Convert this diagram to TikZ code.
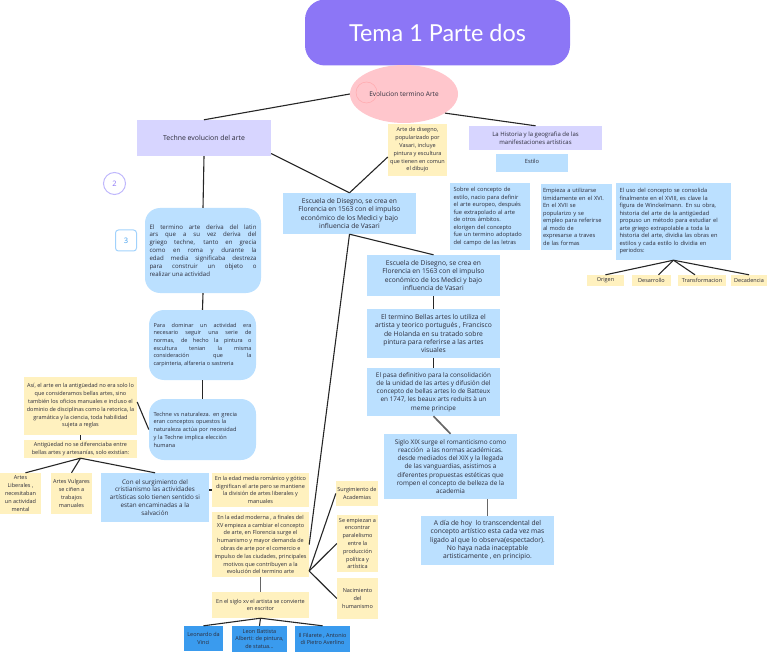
\documentclass[tikz,border=0pt]{standalone}
\usepackage{fontspec}
\usepackage{xcolor}
\setmainfont{Open Sans}
\newfontfamily\titlefont{Lato}
\usetikzlibrary{shapes.geometric}
\definecolor{titlecolor}{HTML}{8C76F6}
\definecolor{pinkcolor}{HTML}{FFC6CC}
\definecolor{lavendercolor}{HTML}{D7D5FF}
\definecolor{bluecolor}{HTML}{BBE0FF}
\definecolor{yellowcolor}{HTML}{FFF1BF}
\definecolor{deepcolor}{HTML}{3A9BEE}
\definecolor{inkcolor}{HTML}{2C2C3A}
\hyphenpenalty=10000
\tikzset{
  bx/.style={rectangle, inner sep=0pt, align=center, text=inkcolor},
  bluebox/.style={bx, fill=bluecolor, font=\fontsize{6.7}{8.3}\selectfont},
  smallblue/.style={bx, fill=bluecolor, font=\fontsize{5.7}{7.5}\selectfont},
  roundblue/.style={bx, fill=bluecolor, rounded corners=15pt, font=\fontsize{6.1}{7.9}\selectfont},
  yellowbox/.style={bx, fill=yellowcolor, font=\fontsize{5.5}{7.8}\selectfont},
  lavenderbox/.style={bx, fill=lavendercolor, font=\fontsize{6}{7.8}\selectfont},
  deepbox/.style={bx, fill=deepcolor, font=\fontsize{5.5}{7.8}\selectfont},
  link/.style={draw=black!85, line width=1.1pt},
  greylink/.style={draw=black!60, line width=1.7pt},
}
\begin{document}
\begin{tikzpicture}[x=1pt, y=-1pt]%
\useasboundingbox (0,0) rectangle (768,652);%
\node[bx, fill=titlecolor, rounded corners=20pt, minimum width=265pt, minimum height=66pt, text=white, font=\titlefont\fontsize{23.4}{28}\selectfont] (title) at (437.5,32.5) {Tema 1 Parte dos};%
\node[ellipse, inner sep=0pt, fill=pinkcolor, minimum width=108pt, minimum height=58pt, text=inkcolor, font=\fontsize{6.5}{8}\selectfont] (evolucion) at (404,94) {Evolucion termino Arte};%
\node[circle, draw=pinkcolor!85!red, line width=0.5pt, minimum size=21pt, inner sep=0pt] (marca) at (366.5,92.5) {};%
\node[circle, draw=lavendercolor!70!titlecolor, line width=1pt, minimum size=22pt, inner sep=0pt, text=titlecolor, font=\fontsize{7.5}{9}\selectfont] (dos) at (114.5,183.5) {2};%
\node[rectangle, rounded corners=3pt, draw=bluecolor!80!deepcolor, line width=1pt, minimum size=21pt, inner sep=0pt, text=deepcolor, font=\fontsize{7.5}{9}\selectfont] (tres) at (126,240.5) {3};%
\node[lavenderbox, minimum width=134pt, minimum height=36pt, font=\fontsize{6.9}{8}\selectfont] (techne) at (204,138) {Techne evolucion del arte};%
\node[lavenderbox, minimum width=133pt, minimum height=24pt] (historia) at (535.5,138) {La Historia y la geografia de las\\manifestaciones artísticas};%
\node[yellowbox, minimum width=59pt, minimum height=52pt] (disegno) at (417.5,150) {Arte de disegno,\\popularizado por\\Vasari, incluye\\pintura y escultura\\que tienen en comun\\el dibujo};%
\node[smallblue, minimum width=72pt, minimum height=18pt] (estilo) at (532,163) {\raisebox{4pt}{Estilo}};%
\node[smallblue, minimum width=80pt, minimum height=67pt, text width=73pt, align=left, inner xsep=3.5pt] (sobre) at (490,216.5) {Sobre el concepto de\\estilo, nacio para definir\\el arte europeo, después\\fue extrapolado al arte\\de otros ámbitos.\\elorigen del concepto\\fue un termino adoptado\\del campo de las letras};%
\node[smallblue, minimum width=71pt, minimum height=66pt, text width=67pt, align=left] (empieza) at (576.5,217) {Empieza a utilizarse\\timidamente en el XVI.\\En el XVII se\\popularizo y se\\empleo para referirse\\al modo de\\expresarse a traves\\de las formas};%
\node[smallblue, minimum width=115pt, minimum height=77pt, text width=108pt, align=left] (uso) at (673.5,221.5) {El uso del concepto se consolida\\finalmente en el XVIII, es clave la\\figura de Winckelmann. En su obra,\\historia del arte de la antigüedad\\propuso un método para estudiar el\\arte griego extrapolable a toda la\\historia del arte, dividia las obras en\\estilos y cada estilo lo dividia en\\periodos:};%
\node[yellowbox, minimum width=37pt, minimum height=11pt] (origen) at (605.5,280.5) {Origen};%
\node[yellowbox, minimum width=39pt, minimum height=11pt] (desarrollo) at (651.5,280.5) {Desarrollo};%
\node[yellowbox, minimum width=48pt, minimum height=11pt] (transformacion) at (702,280.5) {Transformacion};%
\node[yellowbox, minimum width=36pt, minimum height=11pt] (decadencia) at (749,280.5) {Decadencia};%
\node[bluebox, minimum width=133pt, minimum height=41pt] (escuelaa) at (349.5,213.5) {Escuela de Disegno, se crea en\\Florencia en 1563 con el impulso\\económico de los Medici y bajo\\influencia de Vasari};%
\node[bluebox, minimum width=133pt, minimum height=41pt] (escuelab) at (433.5,275.5) {Escuela de Disegno, se crea en\\Florencia en 1563 con el impulso\\económico de los Medici y bajo\\influencia de Vasari};%
\node[bluebox, minimum width=133pt, minimum height=49pt] (bellas) at (433.5,333.5) {El termino Bellas artes lo utiliza el\\artista y teorico portugués , Francisco\\de Holanda en su tratado sobre\\pintura para referirse a las artes\\visuales};%
\node[bluebox, minimum width=133pt, minimum height=48pt, font=\fontsize{6.4}{8.3}\selectfont] (pasa) at (433.5,392) {El pasa definitivo para la consolidación\\de la unidad de las artes y difusión del\\concepto de bellas artes lo de Batteux\\en 1747, les beaux arts reduits à un\\meme principe};%
\node[bluebox, minimum width=133pt, minimum height=65pt, font=\fontsize{6.4}{8.3}\selectfont] (siglo) at (450.5,466.5) {Siglo XIX surge el romanticismo como\\reacción\ \ a las normas académicas.\\desde mediados del XIX y la llegada\\de las vanguardias, asistimos a\\diferentes propuestas estéticas que\\rompen el concepto de belleza de la\\academia};%
\node[bluebox, minimum width=133pt, minimum height=49pt] (hoy) at (487.5,540.5) {A día de hoy\ \ lo transcendental del\\concepto artístico esta cada vez mas\\ligado al que lo observa(espectador).\\No haya nada inaceptable\\artisticamente , en principio.};%
\node[roundblue, minimum width=116pt, minimum height=85pt, text width=107pt, align=justify, inner xsep=4.5pt] (termino) at (203,250.5) {El termino arte deriva del latin\linebreak ars que a su vez deriva del\linebreak griego techne, tanto en grecia\linebreak como en roma y durante la\linebreak edad media significaba destreza\linebreak para construir un objeto o\linebreak realizar una actividad};%
\node[roundblue, minimum width=107pt, minimum height=70pt, text width=98pt, align=justify, inner xsep=4.5pt, font=\fontsize{5.5}{7.7}\selectfont] (dominar) at (202.5,345) {Para dominar un actividad era\linebreak necesario seguir una serie de\linebreak normas, de hecho la pintura o\linebreak escultura tenian la misma\linebreak consideración que la\linebreak carpinteria, alfareria o sastreria};%
\node[roundblue, minimum width=107pt, minimum height=61pt, text width=98pt, align=left, inner xsep=4.5pt, font=\fontsize{5.6}{7.7}\selectfont] (naturaleza) at (202.5,429.5) {Techne vs naturaleza. en grecia\\eran conceptos opuestos la\\naturaleza actúa por necesidad\\y la Techne implica elección\\humana};%
\node[yellowbox, minimum width=113pt, minimum height=58pt] (asi) at (80.5,406) {Así, el arte en la antigüedad no era solo lo\\que consideramos bellas artes, sino\\también los oficios manuales e incluso el\\dominio de disciplinas como la retorica, la\\gramática y la ciencia, toda habilidad\\sujeta a reglas};%
\node[yellowbox, minimum width=113pt, minimum height=18pt] (antiguedad) at (80.5,449) {Antigüedad no se diferenciaba entre\\bellas artes y artesanías, solo existían:};%
\node[yellowbox, minimum width=41pt, minimum height=41pt] (liberales) at (20.5,493.5) {Artes\\Liberales ,\\necesitaban\\un actividad\\mental};%
\node[yellowbox, minimum width=41pt, minimum height=41pt] (vulgares) at (71.5,493.5) {Artes Vulgares\\se ciñen a\\trabajos\\manuales};%
\node[bluebox, minimum width=108pt, minimum height=49pt, font=\fontsize{6.3}{7.9}\selectfont] (cristianismo) at (155,497.5) {Con el surgimiento del\\cristianismo las actividades\\artísticas solo tienen sentido si\\estan encaminadas a la\\salvación};%
\node[yellowbox, minimum width=97pt, minimum height=34pt] (media) at (260.5,490) {En la edad media románico y gótico\\dignifican el arte pero se mantiene\\la división de artes liberales y\\manuales};%
\node[yellowbox, minimum width=97pt, minimum height=65pt] (moderna) at (260.5,544.5) {En la edad moderna , a finales del\\XV empieza a cambiar el concepto\\de arte, en Florencia surge el\\humanismo y mayor demanda de\\obras de arte por el comercio e\\impulso de las ciudades, principales\\motivos que contribuyen a la\\evolución del termino arte};%
\node[yellowbox, minimum width=97pt, minimum height=26pt] (escritor) at (260.5,605) {\raisebox{4pt}{\parbox{95pt}{\centering En el siglo xv el artista se convierte\\en escritor}}};%
\node[yellowbox, minimum width=42pt, minimum height=25pt] (academias) at (357,493.5) {Surgimiento de\\Academias};%
\node[yellowbox, minimum width=41pt, minimum height=57pt] (parece) at (357.5,543.5) {Se empiezan a\\encontrar\\paralelismo\\entre la\\producción\\política y\\artística};%
\node[yellowbox, minimum width=41pt, minimum height=41pt] (humanismo) at (357.5,598.5) {Nacimiento\\del\\humanismo};%
\node[deepbox, minimum width=39pt, minimum height=25pt] (leonardo) at (203.5,638.5) {Leonardo da\\Vinci};%
\node[deepbox, minimum width=55pt, minimum height=26pt] (alberti) at (259.5,639) {Leon Battista\\Alberti: de pintura,\\de statua...};%
\node[deepbox, minimum width=55pt, minimum height=26pt] (filarete) at (322.5,639) {Il Filarete , Antonio\\di Pietro Averlino};%
\draw[link] (evolucion.west) -- (techne.north);%
\draw[link] (evolucion.-25) -- (historia.north);%
\draw[link] (techne.-13) -- (escuelaa.north);%
\draw[link] ([yshift=-7pt]disegno.west) -- (escuelaa.north);%
\draw[link] (techne.south) -- (termino.north);%
\draw[link] (termino.south) -- (dominar.north);%
\draw[link] (dominar.south) -- (naturaleza.north);%
\draw[link] ([yshift=4pt]asi.east) -- (naturaleza.west);%
\draw[link] (asi.south) -- (antiguedad.north);%
\draw[link] (antiguedad.south) -- ([xshift=5pt]liberales.north);%
\draw[link] (antiguedad.south) -- (vulgares.north);%
\draw[link] (antiguedad.south) -- (cristianismo.north);%
\draw[link] (cristianismo.east |- media.west) -- (media.west);%
\draw[link] (escuelaa.south) -- (escuelab.north);%
\draw[link] (escuelaa.south) -- (moderna.east);%
\draw[link] (escuelab.south) -- (bellas.north);%
\draw[link] (bellas.south) -- (pasa.north);%
\draw[greylink] (pasa.south) -- (siglo.north);%
\draw[greylink] (hoy.north) -- (hoy.north |- siglo.south);%
\draw[link] ([yshift=-26.5pt]moderna.east) -- (academias.west);%
\draw[link] ([yshift=-26.5pt]moderna.east) -- (parece.west);%
\draw[link] ([yshift=-26.5pt]moderna.east) -- (humanismo.west);%
\draw[greylink] (moderna.south) -- (escritor.north);%
\draw[link] (escritor.south) -- (leonardo.north);%
\draw[link] (escritor.south) -- (alberti.north);%
\draw[link] (escritor.south) -- (filarete.north);%
\draw[link] (uso.south) -- (origen.north);%
\draw[link] (uso.south) -- ([xshift=7pt]desarrollo.north);%
\draw[link] (uso.south) -- ([xshift=-7pt]transformacion.north);%
\draw[link] (uso.south) -- (decadencia.north);%
\end{tikzpicture}
\end{document}
